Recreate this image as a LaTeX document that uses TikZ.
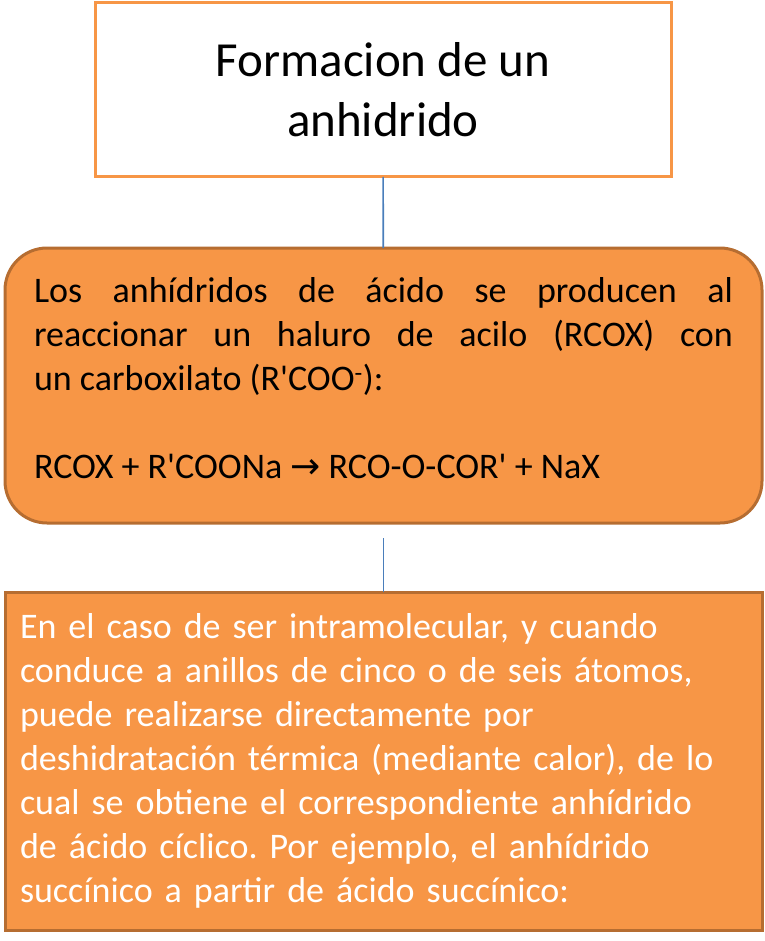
\documentclass[tikz,border=0pt]{standalone}
\usepackage{fontspec}
\setmainfont{Carlito}
\newfontfamily\arrowfont{DejaVu Sans}
\usepackage{tikz}
\usetikzlibrary{positioning,calc}
\definecolor{accentorange}{HTML}{F79646}
\definecolor{accentdark}{HTML}{B66D31}
\definecolor{linkblue}{HTML}{4A7EBB}
\newcommand{\prm}{\textquotesingle}
\frenchspacing
\tikzset{
	concept map/.style={
		x=1pt,y=-1pt,
		every node/.style={inner sep=0pt,outer sep=0pt},
		link/.style={
			draw=linkblue,
			line width=1.6pt
		}
	},
	title box/.style={
		rectangle,
		draw=accentorange,
		fill=white,
		line width=3pt,
		minimum width=576pt,
		minimum height=174pt,
		align=center,
		font=\fontsize{49}{60}\selectfont
	},
	reaction box/.style={
		rectangle,
		rounded corners=42pt,
		draw=accentdark,
		fill=accentorange,
		line width=3pt,
		minimum width=757pt,
		minimum height=275pt,
		text width=699pt,
		align=justify,
		font=\fontsize{36}{44}\selectfont % black text
	},
	detail box/.style={
		rectangle,
		draw=accentdark,
		fill=accentorange,
		line width=3pt,
		minimum width=757pt,
		minimum height=338pt,
		text width=727pt,
		align=left,
		text=white,
		font=\fontsize{36}{44}\selectfont
	}
}
\begin{document}
\begin{tikzpicture}[concept map]
		\useasboundingbox (0,0) rectangle (764,941);
		\node[title box] (title) at (383,90) {Formacion de un\\anhidrido};
		\node[reaction box] (reaction) at (383.5,385.5) {%
			Los anhídridos de ácido se producen al\linebreak
			reaccionar un haluro de acilo (RCOX) con\linebreak
			un carboxilato (R\prm COO\textsuperscript{-}):\\[44pt]
			RCOX + R\prm COONa {\arrowfont →} RCO-O-COR\prm{} + NaX\par\kern15pt\hrule height 0pt};
		\node[detail box] (detail) at (383.5,761) {%
			En el caso de ser intramolecular, y cuando\\
			conduce a anillos de cinco o de seis átomos,\\
			puede realizarse directamente por\\
			deshidratación térmica (mediante calor), de lo\\
			cual se obtiene el correspondiente anhídrido\\
			de ácido cíclico. Por ejemplo, el anhídrido\\
			succínico a partir de ácido succínico:};
		% connectors
		\draw[link] (title) -- (reaction);
		\draw[link,shorten <=15pt] (reaction) -- (detail);
	\end{tikzpicture}
\end{document}
